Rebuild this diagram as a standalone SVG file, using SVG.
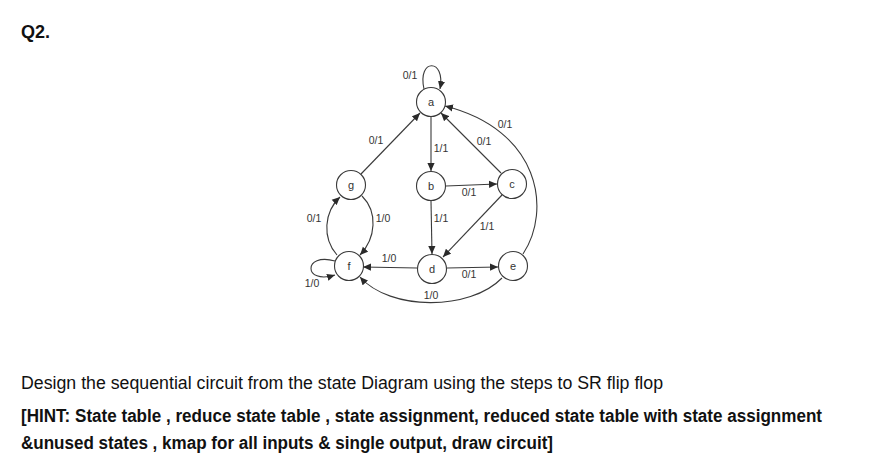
<svg xmlns="http://www.w3.org/2000/svg" width="884" height="466" viewBox="0 0 884 466">
<style>
.node circle{fill:#fff;stroke:#3a3a3a;stroke-width:1.1}
.node text{font-family:"Liberation Sans",Arial,sans-serif;font-size:11px;fill:#333;text-anchor:middle}
.edges path{fill:none;stroke:#3a3a3a;stroke-width:1.1;marker-end:url(#arr)}
.lbl{font-family:"Liberation Sans",Arial,sans-serif;font-size:10.5px;fill:#333;text-anchor:middle}
.body{font-family:"Liberation Sans",Arial,sans-serif;font-size:17.5px;fill:#111}
.bold{font-weight:bold}
</style>
<defs>
<marker id="arr" viewBox="0 0 10 10" refX="10" refY="5" markerWidth="8" markerHeight="8" markerUnits="userSpaceOnUse" orient="auto">
<path d="M0,0.5 L10,5 L0,9.5 z" fill="#2a2a2a"/>
</marker>
</defs>
<rect width="884" height="466" fill="#fff"/>
<text x="21" y="38" class="body bold" style="font-size:18px">Q2.</text>

<g class="edges">
<path d="M424,89 C417,58 446,58 440,89"/>
<path d="M361,174 L420,113"/>
<path d="M431,116 L431,171"/>
<path d="M501,173 L441,113"/>
<path d="M523,254 C552,210 540,130 445,106"/>
<path d="M446,186 L497,184"/>
<path d="M431,201 L432,254"/>
<path d="M502,195 L443,257"/>
<path d="M417,268 L363,267"/>
<path d="M447,268 L498,267"/>
<path d="M502,278 C470,311 390,311 360,277"/>
<path d="M362,196 C378,212 376,238 360,255"/>
<path d="M337,255 C322,238 324,212 340,197"/>
<path d="M335,261 C303,252 303,285 335,275"/>
</g>

<g id="a" class="node"><circle cx="431" cy="102" r="14.5"/><text x="431" y="106">a</text></g>
<g id="b" class="node"><circle cx="431" cy="186" r="14.5"/><text x="431" y="190">b</text></g>
<g id="c" class="node"><circle cx="512" cy="184" r="14.5"/><text x="512" y="188">c</text></g>
<g id="g" class="node"><circle cx="351" cy="185" r="14.5"/><text x="351" y="189">g</text></g>
<g id="f" class="node"><circle cx="349" cy="266" r="14.5"/><text x="349" y="270">f</text></g>
<g id="d" class="node"><circle cx="432" cy="269" r="14.5"/><text x="432" y="273">d</text></g>
<g id="e" class="node"><circle cx="513" cy="266" r="14.5"/><text x="513" y="270">e</text></g>

<g class="labels">
<text class="lbl" x="410" y="79">0/1</text>
<text class="lbl" x="376" y="144">0/1</text>
<text class="lbl" x="441" y="152">1/1</text>
<text class="lbl" x="484" y="145">0/1</text>
<text class="lbl" x="505" y="128">0/1</text>
<text class="lbl" x="469" y="196">0/1</text>
<text class="lbl" x="314" y="222">0/1</text>
<text class="lbl" x="383" y="222">1/0</text>
<text class="lbl" x="441" y="222">1/1</text>
<text class="lbl" x="487" y="230">1/1</text>
<text class="lbl" x="389" y="262">1/0</text>
<text class="lbl" x="469" y="278">0/1</text>
<text class="lbl" x="431" y="299">1/0</text>
<text class="lbl" x="312" y="287">1/0</text>
</g>

<text class="body" x="21" y="389" textLength="642" lengthAdjust="spacingAndGlyphs">Design the sequential circuit from the state Diagram using the steps to SR flip flop</text>
<text class="body bold" x="21" y="422" textLength="801" lengthAdjust="spacingAndGlyphs">[HINT: State table , reduce state table , state assignment, reduced state table with state assignment</text>
<text class="body bold" x="21" y="449" textLength="532" lengthAdjust="spacingAndGlyphs">&amp;unused states , kmap for all inputs &amp; single output, draw circuit]</text>
</svg>
